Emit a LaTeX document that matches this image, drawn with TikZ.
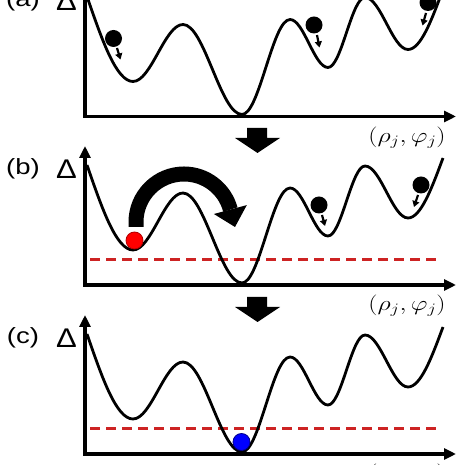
\documentclass[tikz,border=0pt]{standalone}
\usepackage{fontspec}
\setmainfont{Liberation Sans}
\usetikzlibrary{arrows.meta}
\definecolor{dashred}{RGB}{205,35,35}
\definecolor{ballred}{RGB}{255,0,0}
\definecolor{ballredline}{RGB}{180,0,0}
\definecolor{ballblue}{RGB}{0,0,255}
\definecolor{ballblueline}{RGB}{0,0,140}
\newcommand{\drawlandscape}{%
  \draw[landcurve] (87,120) sin (133,35) cos (158,63.5) sin (183,92)
    cos (212.5,47) sin (242,2) cos (266,49.5) sin (290,97)
    cos (309,73) sin (328,49) cos (346.5,84) sin (365,119)
    cos (386.5,93) sin (408,67) cos (443,127);}
\newcommand{\drawaxes}{%
  \draw[axisline] (85,139) -- (85,0) -- (456,0);}
\newcommand{\gapsym}{\char"0394\relax}
\begin{document}
\begin{tikzpicture}[x=1pt,y=1pt,
  axisline/.style={line width=3.6pt, line join=miter,
    {Triangle[length=12pt,width=11pt]}-{Triangle[length=12pt,width=11pt]}},
  landcurve/.style={line width=2.8pt, line join=round},
  lbl/.style={inner sep=0pt, font=\fontsize{22}{26}\selectfont},
  dlbl/.style={inner sep=0pt, font=\fontsize{27}{30}\selectfont},
  axlbl/.style={inner sep=0pt, font=\fontsize{21}{24}\selectfont},
  blackball/.style={circle, fill=black, minimum size=17pt, inner sep=0pt},
  rollarrow/.style={line width=2.2pt, -{Triangle[length=6pt,width=7pt]}},
  levelline/.style={dashred, line width=3pt, dash pattern=on 10pt off 6pt},
  bigdown/.style={fill=black}
]
\useasboundingbox (0,0) rectangle (465,465);

% ---------------- panel (a) ----------------
\begin{scope}[shift={(0,348.5)}]
  \drawaxes
  \drawlandscape
  \node[lbl] (la) at (23,116) {\scalebox{1.25}[1]{(a)}};
  \node[dlbl] (da) at (66.5,115.5) {\scalebox{1.15}[1]{\gapsym}};
  \node[axlbl] (xa) at (407,-21) {\scalebox{1.25}[1]{$(\rho_j,\varphi_j)$}};
  \node[blackball] (a1) at (113.5,78) {};
  \node[blackball] (a2) at (314,91.5) {};
  \node[blackball] (a3) at (428,114) {};
  \coordinate (a1t) at (120.5,57);
  \coordinate (a2t) at (319.5,69);
  \coordinate (a3t) at (422.5,91);
  \draw[rollarrow] (117,68.5) -- (a1t);
  \draw[rollarrow] (317,81.5) -- (a2t);
  \draw[rollarrow] (426,103.5) -- (a3t);
\end{scope}

% big arrow (a)->(b)
\fill[bigdown] (247,337) -- (267,337) -- (267,327) -- (280,327) -- (257.5,312)
  -- (235,327) -- (247,327) -- cycle;

% ---------------- panel (b) ----------------
\begin{scope}[shift={(0,180)}]
  \draw[levelline] (90,25) -- (440,25);
  \drawaxes
  \drawlandscape
  \node[lbl] (lb) at (23,116) {\scalebox{1.25}[1]{(b)}};
  \node[dlbl] (db) at (66.5,115.5) {\scalebox{1.15}[1]{\gapsym}};
  \node[axlbl] (xb) at (407,-21) {\scalebox{1.25}[1]{$(\rho_j,\varphi_j)$}};
  \node[circle, fill=ballred, draw=ballredline, line width=0.8pt,
        minimum size=17pt, inner sep=0pt] (rb) at (134.5,44.5) {};
  \node[blackball] (b2) at (319,80) {};
  \node[blackball] (b3) at (421,100) {};
  \coordinate (b2t) at (325,59);
  \coordinate (b3t) at (414,78);
  \draw[rollarrow] (322,70) -- (b2t);
  \draw[rollarrow] (418,90) -- (b3t);
  % curved jump arrow
  \coordinate (js) at (136,58);
  \coordinate (je) at (230.36,75.42);
  \draw[line width=15pt] (js) -- (136,63) arc[start angle=180, end angle=15, radius=48];
  \fill (213.9,71.0) -- (246.8,79.9) -- (235.0,58.0) -- cycle;
\end{scope}

% big arrow (b)->(c)
\fill[bigdown] (247,168) -- (267,168) -- (267,158) -- (280,158) -- (257.5,143)
  -- (235,158) -- (247,158) -- cycle;

% ---------------- panel (c) ----------------
\begin{scope}[shift={(0,11)}]
  \draw[levelline] (90,25) -- (440,25);
  \drawaxes
  \drawlandscape
  \node[lbl] (lc) at (23,116) {\scalebox{1.25}[1]{(c)}};
  \node[dlbl] (dc) at (66.5,115.5) {\scalebox{1.15}[1]{\gapsym}};
  \node[axlbl] (xc) at (407,-21) {\scalebox{1.25}[1]{$(\rho_j,\varphi_j)$}};
  \node[circle, fill=ballblue, draw=ballblueline, line width=0.8pt,
        minimum size=17pt, inner sep=0pt] (bc) at (241.5,12) {};
\end{scope}
\end{tikzpicture}
\end{document}
